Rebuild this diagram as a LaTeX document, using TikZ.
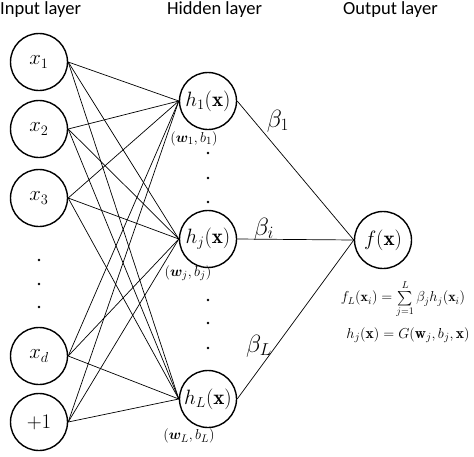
\documentclass[tikz,border=0pt]{standalone}
\usepackage{amsmath, bm, fontspec}
\newfontfamily\layerfont{Carlito}

\begin{document}
\begin{tikzpicture}[x=1pt, y=-1pt,
  neuron/.style={draw, circle, line width=1.4pt, minimum size=57pt, inner sep=0pt,
    font=\fontsize{21}{23}\selectfont},
  link/.style={line width=0.7pt},
  layer/.style={anchor=base west, inner sep=0pt, font=\layerfont\fontsize{18.5}{20}\selectfont},
  param/.style={inner sep=0pt, font=\fontsize{15.5}{17}\selectfont},
  weight/.style={inner sep=0pt, font=\fontsize{24}{26}\selectfont}]
  \useasboundingbox (0,0) rectangle (474,456);

  % layer titles
  \node[layer] (tin) at (0,14) {Input layer};
  \node[layer] (thid) at (167,14) {Hidden layer};
  \node[layer] (tout) at (343,14) {Output layer};

  % input layer
  \node[neuron] (x1) at (39,62) {$x_1$};
  \node[neuron] (x2) at (39,129) {$x_2$};
  \node[neuron] (x3) at (39,198) {$x_3$};
  \node[neuron] (xd) at (39,356) {$x_d$};
  \node[neuron] (bias) at (39,422) {$+1$};
  \fill (39,260) circle [radius=1.3];
  \fill (39,284) circle [radius=1.3];
  \fill (39,307) circle [radius=1.3];

  % hidden layer
  \node[neuron] (h1) at (208,101) {$h_1(\mathbf{x})$};
  \node[neuron] (hj) at (208,239) {$h_j(\mathbf{x})$};
  \node[neuron] (hL) at (208,399) {$h_L(\mathbf{x})$};
  \fill (208,153) circle [radius=1.3];
  \fill (208,178) circle [radius=1.3];
  \fill (208,202) circle [radius=1.3];
  \fill (208,300) circle [radius=1.3];
  \fill (208,323) circle [radius=1.3];
  \fill (208,348) circle [radius=1.3];

  \node[param] (p1) at (194,139) {$(\bm{w}_1,b_1)$};
  \node[param] (pj) at (188,273) {$(\bm{w}_j,b_j)$};
  \node[param] (pL) at (189,436) {$(\bm{w}_L,b_L)$};

  % output layer
  \node[neuron] (f) at (383,240) {$f(\mathbf{x})$};

  % input to hidden
  \foreach \i in {x1,x2,x3,xd,bias}
    \foreach \h in {h1,hj,hL}
      \draw[link] (\i.east) -- (\h.west);

  % hidden to output
  \draw[link] (h1.east) -- (f.west);
  \draw[link] (hj.east) -- (f.west);
  \draw[link] (hL.east) -- (f.west);
  \node[weight] (b1) at (278,121) {$\beta_1$};
  \node[weight] (bi) at (264,229) {$\beta_i$};
  \node[weight] (bL) at (259,346) {$\beta_L$};

  % formulas
  \node[inner sep=0pt, font=\fontsize{14}{16}\selectfont] (eq1) at (403,299)
    {$f_L(\mathbf{x}_i)=\sum\limits_{j=1}^{L}\beta_j h_j(\mathbf{x}_i)$};
  \node[inner sep=0pt, font=\fontsize{15.5}{17}\selectfont] (eq2) at (408,335)
    {$h_j(\mathbf{x})=G(\mathbf{w}_j,b_j,\mathbf{x})$};
\end{tikzpicture}
\end{document}
